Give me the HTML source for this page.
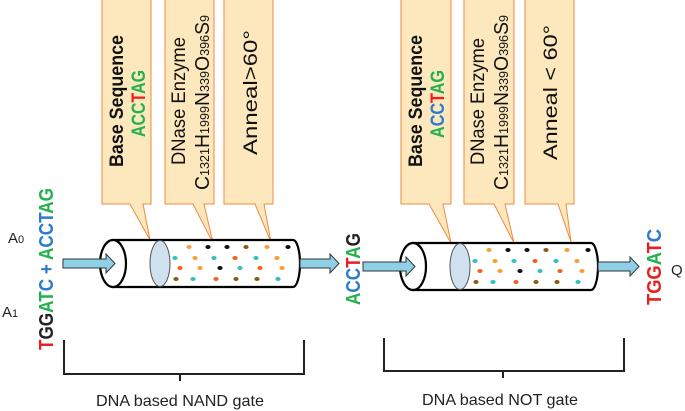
<!DOCTYPE html>
<html><head><style>body{margin:0;background:#fff}svg{display:block}</style></head>
<body>
<svg width="685" height="411" viewBox="0 0 685 411" xmlns="http://www.w3.org/2000/svg" font-family="Liberation Sans, sans-serif">
<g fill="#fde8bd" stroke="#f08a40" stroke-width="1">
<path d="M102,0 V204 H130 L150,240 L143,204 H151 V0"/>
<path d="M165,0 V204 H193 L213,243 L204,204 H214 V0"/>
<path d="M224,0 V204 H255 L271,242 L264,204 H273 V0"/>
<path d="M401,0 V204 H429 L451,243 L443,204 H451 V0"/>
<path d="M464,0 V204 H494 L514,243 L505,204 H514 V0"/>
<path d="M525,0 V204 H558 L571,242 L566,204 H574 V0"/>
</g>
<g font-weight="bold" font-size="19" fill="#111">
<text transform="translate(123,167) rotate(-90)" textLength="132" lengthAdjust="spacingAndGlyphs">Base Sequence</text>
<text transform="translate(145,137) rotate(-90)" textLength="67" lengthAdjust="spacingAndGlyphs"><tspan fill="#22b14c">ACC</tspan><tspan fill="#e82020">T</tspan><tspan fill="#22b14c">AG</tspan></text>
<text transform="translate(185,165) rotate(-90)" textLength="128" lengthAdjust="spacingAndGlyphs" font-weight="normal">DNase Enzyme</text>
<text transform="translate(209,190) rotate(-90)" textLength="175" lengthAdjust="spacingAndGlyphs" font-weight="normal" font-size="20">C<tspan font-size="13">1321</tspan>H<tspan font-size="13">1999</tspan>N<tspan font-size="13">339</tspan>O<tspan font-size="13">396</tspan>S<tspan font-size="13">9</tspan></text>
<text transform="translate(257,155) rotate(-90)" textLength="125" lengthAdjust="spacingAndGlyphs" font-weight="normal" font-size="19">Anneal&gt;60°</text>
<text transform="translate(422,167) rotate(-90)" textLength="132" lengthAdjust="spacingAndGlyphs">Base Sequence</text>
<text transform="translate(444,138) rotate(-90)" textLength="68" lengthAdjust="spacingAndGlyphs"><tspan fill="#22b14c">A</tspan><tspan fill="#2a7ad0">CC</tspan><tspan fill="#e82020">T</tspan><tspan fill="#22b14c">AG</tspan></text>
<text transform="translate(484,165) rotate(-90)" textLength="127" lengthAdjust="spacingAndGlyphs" font-weight="normal">DNase Enzyme</text>
<text transform="translate(508,190) rotate(-90)" textLength="175" lengthAdjust="spacingAndGlyphs" font-weight="normal" font-size="20">C<tspan font-size="13">1321</tspan>H<tspan font-size="13">1999</tspan>N<tspan font-size="13">339</tspan>O<tspan font-size="13">396</tspan>S<tspan font-size="13">9</tspan></text>
<text transform="translate(557,160) rotate(-90)" textLength="135" lengthAdjust="spacingAndGlyphs" font-weight="normal" font-size="19">Anneal &lt; 60°</text>
</g>
<g stroke="#000" stroke-width="2.2" fill="#fff">
<path d="M113,240 H293 A7,23.5 0 0 1 293,287 H113 Z"/>
<ellipse cx="113" cy="263.5" rx="13" ry="23.5"/>
<path d="M413,243 H591 A7,23.5 0 0 1 591,290 H413 Z"/>
<ellipse cx="413" cy="266.5" rx="13" ry="23.5"/>
</g>
<g fill="#cfe0ef" stroke="#555" stroke-width="1">
<ellipse cx="160" cy="263.5" rx="10" ry="23"/>
<ellipse cx="460" cy="266.5" rx="10" ry="23"/>
</g>
<g>
<g id="dd">
<ellipse cx="189" cy="247" rx="2.6" ry="2" fill="#f5a030"/><ellipse cx="208" cy="247" rx="2.6" ry="2" fill="#111"/><ellipse cx="227" cy="247" rx="2.6" ry="2" fill="#111"/><ellipse cx="246" cy="247" rx="2.6" ry="2" fill="#8a5a1a"/><ellipse cx="267" cy="247" rx="2.6" ry="2" fill="#f5a030"/><ellipse cx="288" cy="247" rx="2.6" ry="2" fill="#111"/>
<ellipse cx="175" cy="258" rx="2.6" ry="2" fill="#30c0c0"/><ellipse cx="195" cy="258" rx="2.6" ry="2" fill="#f5a030"/><ellipse cx="214" cy="258" rx="2.6" ry="2" fill="#30c0c0"/><ellipse cx="235" cy="258" rx="2.6" ry="2" fill="#f06020"/><ellipse cx="256" cy="258" rx="2.6" ry="2" fill="#30c0c0"/><ellipse cx="277" cy="258" rx="2.6" ry="2" fill="#f5a030"/>
<ellipse cx="180" cy="268" rx="2.6" ry="2" fill="#f06020"/><ellipse cx="200" cy="268" rx="2.6" ry="2" fill="#f5a030"/><ellipse cx="220" cy="268" rx="2.6" ry="2" fill="#111"/><ellipse cx="240" cy="268" rx="2.6" ry="2" fill="#30c0c0"/><ellipse cx="260" cy="268" rx="2.6" ry="2" fill="#f06020"/><ellipse cx="282" cy="268" rx="2.6" ry="2" fill="#f5a030"/>
<ellipse cx="176" cy="279" rx="2.6" ry="2" fill="#8a5a1a"/><ellipse cx="193" cy="279" rx="2.6" ry="2" fill="#30c0c0"/><ellipse cx="216" cy="279" rx="2.6" ry="2" fill="#f06020"/><ellipse cx="236" cy="279" rx="2.6" ry="2" fill="#8a5a1a"/><ellipse cx="257" cy="279" rx="2.6" ry="2" fill="#8a5a1a"/><ellipse cx="278" cy="279" rx="2.6" ry="2" fill="#30c0c0"/>
</g>
<use href="#dd" transform="translate(300,3)"/>
</g>
<g fill="#8ed0e6" stroke="#333" stroke-width="1">
<path d="M63,259 H106 V254 L115,263.5 L106,273 V268 H63 Z"/>
<path d="M300,259 H330 V254 L339,263.5 L330,273 V268 H300 Z"/>
<path d="M363,262 H406 V257 L415,266.5 L406,276 V271 H363 Z"/>
<path d="M598,262 H630 V257 L639,266.5 L630,276 V271 H598 Z"/>
</g>
<g font-weight="bold" font-size="20">
<text transform="translate(53,350) rotate(-90)" textLength="162" lengthAdjust="spacingAndGlyphs"><tspan fill="#e82020">T</tspan><tspan fill="#222">GG</tspan><tspan fill="#22b14c">AT</tspan><tspan fill="#2a7ad0">C + </tspan><tspan fill="#22b14c">A</tspan><tspan fill="#2a7ad0">CC</tspan><tspan fill="#2a7ad0">T</tspan><tspan fill="#22b14c">AG</tspan></text>
<text transform="translate(360,305) rotate(-90)" textLength="72" lengthAdjust="spacingAndGlyphs"><tspan fill="#22b14c">A</tspan><tspan fill="#2a7ad0">CC</tspan><tspan fill="#e82020">T</tspan><tspan fill="#22b14c">A</tspan><tspan fill="#222">G</tspan></text>
<text transform="translate(661,305) rotate(-90)" textLength="76" lengthAdjust="spacingAndGlyphs"><tspan fill="#e82020">TGG</tspan><tspan fill="#22b14c">A</tspan><tspan fill="#e82020">T</tspan><tspan fill="#2a7ad0">C</tspan></text>
</g>
<g font-size="15" fill="#222">
<text x="8" y="243">A<tspan font-size="11">0</tspan></text>
<text x="2" y="317">A<tspan font-size="11">1</tspan></text>
<text x="671" y="275">Q</text>
</g>
<g fill="none" stroke="#222" stroke-width="2">
<path d="M64,340 V374 H304 V340"/>
<path d="M180,374 V381"/>
<path d="M384,338 V371 H624 V338"/>
<path d="M503,371 V378"/>
</g>
<g font-size="16" fill="#222" text-anchor="middle">
<text x="180" y="406" textLength="168" lengthAdjust="spacingAndGlyphs">DNA based NAND gate</text>
<text x="500" y="405" textLength="156" lengthAdjust="spacingAndGlyphs">DNA based NOT gate</text>
</g>
</svg>
</body></html>
